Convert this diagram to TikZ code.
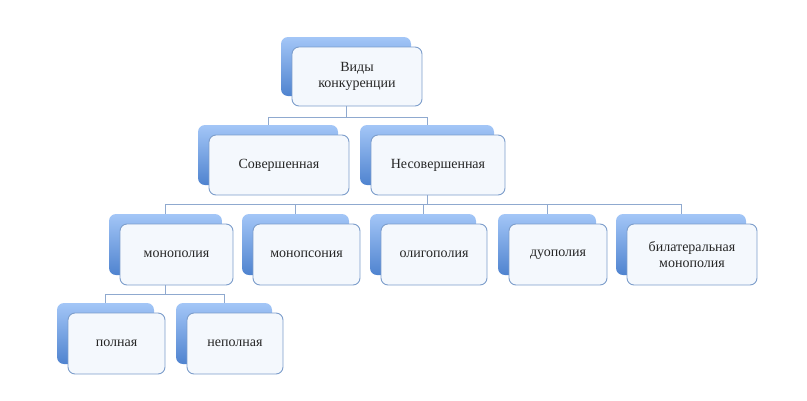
\documentclass[tikz,border=0pt]{standalone}
\usepackage{fontspec}
\setmainfont{Liberation Serif}
\definecolor{bktop}{HTML}{A3C6F7}
\definecolor{bkbot}{HTML}{4F83CF}
\definecolor{frbd}{HTML}{7C9DCB}
\definecolor{frfill}{HTML}{F4F8FD}
\definecolor{ln}{HTML}{8FA9CF}
\tikzset{
 back/.style={rounded corners=7pt, top color=bktop, bottom color=bkbot, draw=none, inner sep=0pt},
 front/.style={rounded corners=7pt, draw=frbd, line width=0.9pt, fill=frfill, align=center, inner sep=0pt, font=\fontsize{14}{16}\selectfont, text=black!85},
 conn/.style={draw=ln, line width=0.9pt}
}
\newcommand\mybox[6]{%
 \node[back, minimum width=#4pt, minimum height=#5pt] (b#1) at (#2-11,#3-10) {};
 \node[front, minimum width=#4pt, minimum height=#5pt] (#1) at (#2,#3) {#6};}
\begin{document}
\begin{tikzpicture}[x=1pt,y=-1pt]
\useasboundingbox (0,0) rectangle (807,400);
\coordinate (r1) at (0,117);
\coordinate (r2) at (0,204);
\coordinate (r3) at (0,294);
% placeholders for positions (back centers) used by connectors
\begin{scope}
\path (346,66.5) coordinate (ctop) (268,155) coordinate (csov) (427,155) coordinate (cnes)
 (165.5,244.5) coordinate (cmono) (295.5,244.5) coordinate (cmps) (423,244.5) coordinate (colig)
 (547,244.5) coordinate (cduo) (681,244.5) coordinate (cbil) (105.5,333.5) coordinate (cpol) (224,333.5) coordinate (cnep);
\end{scope}
\draw[conn] (ctop) -- (ctop|-r1) -| (csov);
\draw[conn] (ctop|-r1) -| (cnes);
\draw[conn] (cnes) -- (cnes|-r2);
\draw[conn] (cmono|-r2) -- (cbil|-r2);
\foreach \c in {cmono,cmps,colig,cduo,cbil} \draw[conn] (\c|-r2) -- (\c);
\draw[conn] (cmono) -- (cmono|-r3);
\draw[conn] (cpol|-r3) -- (cnep|-r3);
\draw[conn] (cpol|-r3) -- (cpol);
\draw[conn] (cnep|-r3) -- (cnep);
\mybox{top}{357}{76.5}{130}{59}{Виды\\конкуренции}
\mybox{sov}{279}{165}{140}{60}{Совершенная}
\mybox{nes}{438}{165}{134}{60}{Несовершенная}
\mybox{mono}{176.5}{254.5}{113}{61}{монополия}
\mybox{mps}{306.5}{254.5}{107}{61}{монопсония}
\mybox{olig}{434}{254.5}{106}{61}{олигополия}
\mybox{duo}{558}{254.5}{98}{61}{дуополия}
\mybox{bil}{692}{254.5}{130}{61}{билатеральная\\монополия}
\mybox{pol}{116.5}{343.5}{97}{61}{полная}
\mybox{nep}{235}{343.5}{96}{61}{неполная}
\end{tikzpicture}
\end{document}
